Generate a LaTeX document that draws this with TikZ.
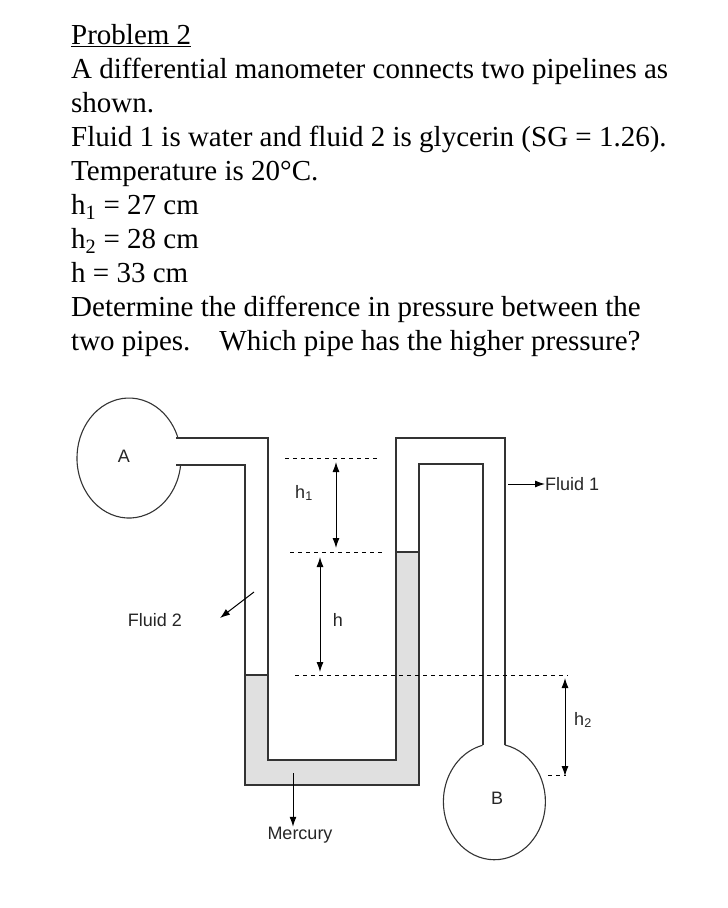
\documentclass[tikz,border=0pt]{standalone}
\usepackage{fontspec}
\setmainfont{Liberation Serif}
\newfontfamily\sansf{Liberation Sans}
\usetikzlibrary{arrows.meta}
\begin{document}
\begin{tikzpicture}[x=1pt,y=-1pt,
  wall/.style={line width=1.1pt,black!80},
  lvl/.style={line width=0.9pt,dash pattern=on 4pt off 4pt},
  dim/.style={line width=1pt,{Latex[length=10pt,width=7pt]}-{Latex[length=10pt,width=7pt]}},
  ptr/.style={line width=1pt,-{Latex[length=10pt,width=7pt]}},
  lab/.style={font=\sansf\fontsize{18}{20}\selectfont,text=black!85,inner sep=0pt},
  txt/.style={font=\fontsize{29}{34}\selectfont,anchor=north west,inner sep=0pt,align=left}]
\useasboundingbox (0,0) rectangle (728,908);
\node[txt] (t) at (71,24) {\underline{Problem 2}\\
A differential manometer connects two pipelines as\\
shown.\\
Fluid 1 is water and fluid 2 is glycerin (SG = 1.26).\\
Temperature is 20°C.\\
h\textsubscript{1} = 27 cm\\
h\textsubscript{2} = 28 cm\\
h = 33 cm\\
Determine the difference in pressure between the\\
two pipes.\quad Which pipe has the higher pressure?};
% mercury fill
\fill[black!12] (245,675) -- (268,675) -- (268,760) -- (396,760) -- (396,552) -- (419,552) -- (419,785) -- (245,785) -- cycle;
% circle A
\draw[wall] (178,438) arc[start angle=-19.5,end angle=-353,x radius=52,y radius=60];
\draw[wall] (176,438) -- (268,438) -- (268,760) -- (396,760) -- (396,438) -- (505,438) -- (505,745);
\draw[wall] (176,465) -- (245,465) -- (245,785) -- (419,785) -- (419,464) -- (483,464) -- (483,745);
\draw[wall] (245,675) -- (268,675);
\draw[wall] (396,552) -- (419,552);
% circle B
\draw[wall] (505,745) arc[start angle=-78,end angle=256.5,x radius=51,y radius=58];
\node[lab] (A) at (124,456) {A};
\node[lab] (B) at (497,798) {B};
% dashed levels
\draw[lvl] (285,458) -- (378,458);
\draw[lvl] (290,552) -- (382,552);
\draw[lvl] (295,675) -- (568,675);
\draw[lvl] (548,775) -- (566,775);
\coordinate (a1) at (336,462); \coordinate (a2) at (336,548);
\draw[dim] (a1) -- (a2);
\coordinate (b1) at (320,557); \coordinate (b2) at (320,672);
\draw[dim] (b1) -- (b2);
\coordinate (c1) at (565,678); \coordinate (c2) at (565,776);
\draw[dim] (c1) -- (c2);
\node[lab] (h1) at (304,493) {h\textsubscript{1}};
\node[lab] (h) at (338,620) {h};
\node[lab] (h2) at (583,720) {h\textsubscript{2}};
\node[lab,anchor=west] (f1) at (545,484) {Fluid 1};
\coordinate (f1s) at (508,484);
\draw[ptr] (f1s) -- (f1.west);
\node[lab] (f2) at (155,620) {Fluid 2};
\coordinate (f2s) at (254,592); \coordinate (f2e) at (220,618);
\draw[ptr] (f2s) -- (f2e);
\node[lab] (m) at (300,835) {Mercury};
\coordinate (ms) at (293,773);
\draw[ptr] (ms) -- (m.north -| ms);
\end{tikzpicture}
\end{document}
